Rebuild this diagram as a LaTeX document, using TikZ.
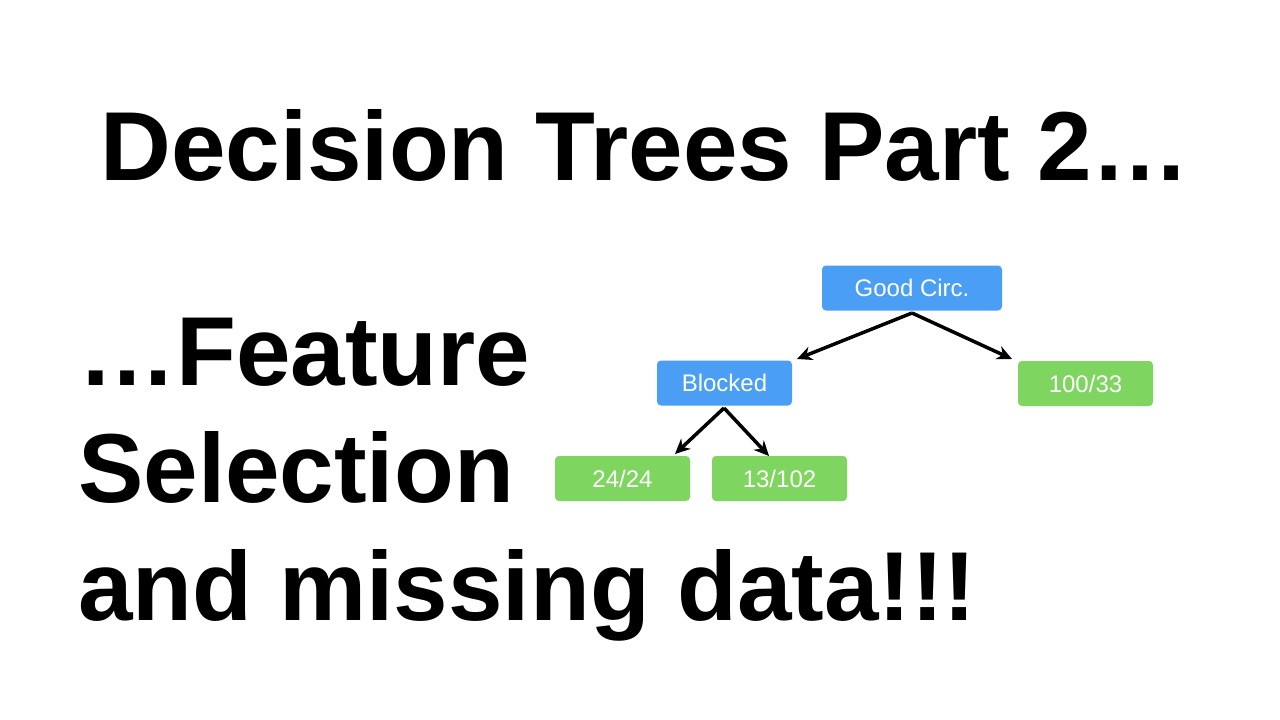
\documentclass[tikz,border=0pt]{standalone}
\usepackage{fontspec}
\setmainfont{Liberation Sans}
\usetikzlibrary{arrows.meta}
\begin{document}
\begin{tikzpicture}[x=1pt,y=-1pt,
  box/.style={rounded corners=4pt,minimum width=135pt,minimum height=45pt,text=white,font=\fontsize{24}{27}\selectfont,inner sep=0pt},
  bluebox/.style={box,fill=blueC},
  greenbox/.style={box,fill=greenC},
  arr/.style={line width=3.5pt,-{Stealth[length=15pt,width=14pt]}},
  big/.style={font=\bfseries\fontsize{98}{110}\selectfont,inner sep=0pt,anchor=base west}]
\definecolor{blueC}{HTML}{4A9FF5}
\definecolor{greenC}{HTML}{7ED55F}
\useasboundingbox[fill=white] (0,0) rectangle (1280,720);
\node[big,anchor=base] (title) at (645,180) {Decision Trees Part 2…};
\node[big] (l1) at (78,385) {…Feature};
\node[big] (l2) at (78,502) {Selection};
\node[big] (l3) at (78,620) {and missing data!!!};
\node[bluebox,minimum width=180pt] (gc) at (912,288) {Good Circ.};
\node[bluebox] (bl) at (724.5,383) {Blocked};
\node[greenbox] (r) at (1085.5,383.5) {100/33};
\node[greenbox] (a) at (622.5,478.5) {24/24};
\node[greenbox] (b) at (779.5,478.5) {13/102};
\coordinate (gcs) at (912,313);
\coordinate (bls) at (724,408);
\draw[arr] (gcs) -- (797,359);
\draw[arr] (gcs) -- (1012,359);
\draw[arr] (bls) -- (675,454);
\draw[arr] (bls) -- (769,456);
\end{tikzpicture}
\end{document}
